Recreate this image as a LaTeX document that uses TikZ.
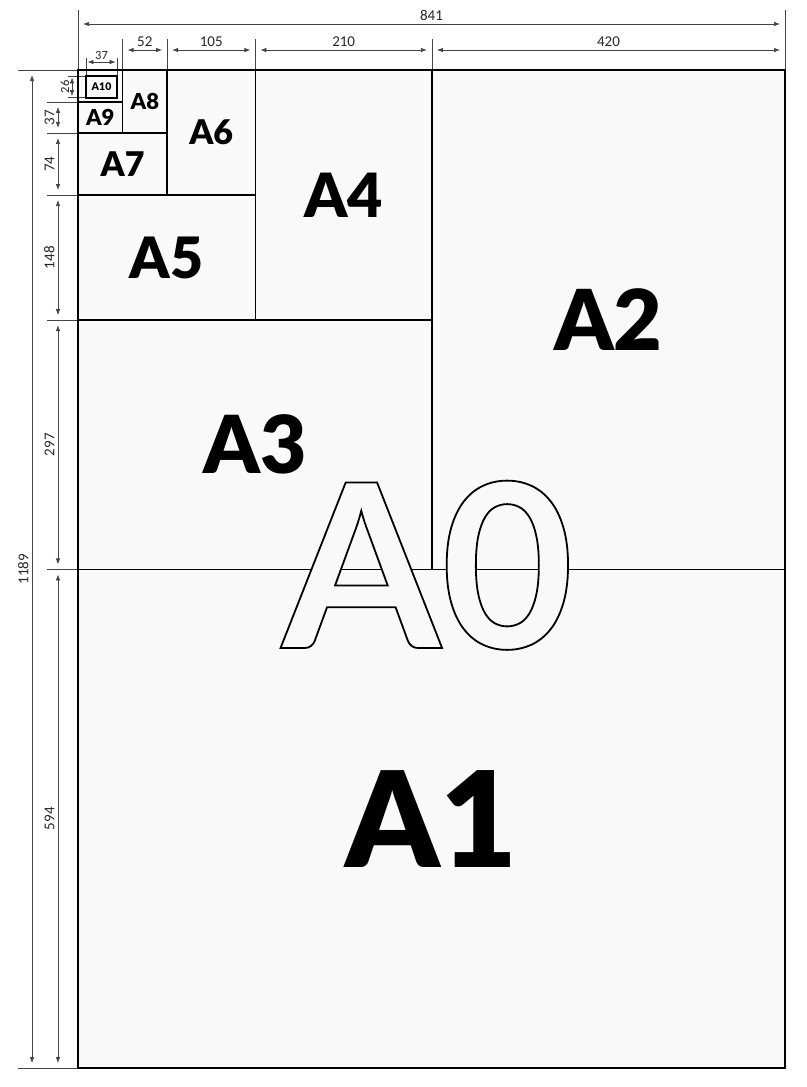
\documentclass[tikz,border=0pt]{standalone}
\usepackage{fontspec}
\usepackage{xcolor}
\usetikzlibrary{arrows.meta}
\setmainfont{Lato}
\newfontfamily\blackfont{Lato Black}
\newfontfamily\dimfont{Carlito}
\definecolor{paper}{HTML}{F9F9F9}
\definecolor{dimgray}{HTML}{444444}
\newcommand\fsz[1]{\fontsize{#1}{#1}\selectfont}
% glyphs filled with the paper colour and stroked in black
\newcommand\outlined[1]{\special{pdf:literal direct 2 Tr 1.8 w 0 G}#1\special{pdf:literal direct 0 Tr}}
\tikzset{
  sheet/.style = {draw=black, line width=1.6pt},
  extline/.style = {draw=dimgray, line width=0.7pt},
  dimline/.style = {draw=dimgray, line width=0.7pt,
    {Latex[length=6pt,width=4.5pt]}-{Latex[length=6pt,width=4.5pt]},
    shorten <=5pt, shorten >=5pt},
  smalldim/.style = {dimline, shorten <=1.5pt, shorten >=1.5pt},
  dimlabel/.style = {font=\dimfont\fsz{15}, text=black!85, inner sep=3.2pt},
  smalllabel/.style = {dimlabel, font=\dimfont\fsz{12.5}, inner sep=2.5pt},
  sizelabel/.style = {font=\blackfont\fsz{#1}, inner sep=0pt}
}

\begin{document}
\begin{tikzpicture}[x=1pt, y=-1pt]
  \useasboundingbox (0,0) rectangle (806,1087);
  \begin{scope}[shift={(78,70)}, x=0.8407pt, y=-0.8394pt]
    % the A0 sheet
    \fill[paper] (0,0) rectangle (841,1189);
    % extension lines
    \foreach \x/\h in {0/71.5, 53/37, 106/37, 211/37, 421/37, 841/71.5}
      \draw[extline] (\x,0) -- (\x,-\h);
    \foreach \y/\w in {0/71.4, 38/36.9, 75/36.9, 149/36.9, 298/36.9, 595/36.9, 1189/71.4}
      \draw[extline] (0,\y) -- (-\w,\y);
    \draw[extline] (9.5,33) -- (9.5,-14.3);
    \draw[extline] (46.5,33) -- (46.5,-14.3);
    \draw[extline] (46.5,7) -- (-11.9,7);
    \draw[extline] (46.5,33) -- (-11.9,33);
    % sheets
    \draw[sheet] (0,595) rectangle (841,1189) node[pos=.5, sizelabel=133] (a1) {A1};
    \draw[sheet] (421,0) rectangle (841,595) node[pos=.5, sizelabel=84] (a2) {A2};
    \draw[sheet] (0,298) rectangle (421,595) node[pos=.5, sizelabel=80] (a3) {A3};
    \draw[sheet] (211,0) rectangle (421,298) node[pos=.5, sizelabel=61] (a4) {A4};
    \draw[sheet] (0,149) rectangle (211,298) node[pos=.5, sizelabel=57] (a5) {A5};
    \draw[sheet] (106,0) rectangle (211,149) node[pos=.5, sizelabel=34] (a6) {A6};
    \draw[sheet] (0,75) rectangle (106,149) node[pos=.5, sizelabel=34] (a7) {A7};
    \draw[sheet] (53,0) rectangle (106,75) node[pos=.5, sizelabel=22] (a8) {A8};
    \draw[sheet] (0,38) rectangle (53,75) node[pos=.5, sizelabel=22] (a9) {A9};
    \draw[sheet] (9.5,7) rectangle (46.5,33) node[pos=.5, sizelabel=10.5] (a10) {A10};
    \draw[sheet] (0,0) rectangle (841,1189);
    % big outlined A0
    \node[font=\bfseries\fsz{229}, text=paper, inner sep=0pt] (a0) at (416,590) {\outlined{A0}};
    % widths
    \coordinate (w0) at (0,-54.8);
    \coordinate (w841) at (841,-54.8);
    \draw[dimline] (w0) -- node[dimlabel, above] (l841) {841} (w841);
    \foreach \a/\b/\w in {53/106/52, 106/211/105, 211/421/210, 421/841/420}
      \draw[dimline] (\a,-23.8) coordinate (wl\w) -- node[dimlabel, above] (l\w) {\w} (\b,-23.8) coordinate (wr\w);
    \coordinate (w37l) at (9.5,-9.5);
    \coordinate (w37r) at (46.5,-9.5);
    \draw[smalldim] (w37l) -- node[smalllabel, above] (l37w) {37} (w37r);
    % heights
    \coordinate (h0) at (-54.7,0);
    \coordinate (h1189) at (-54.7,1189);
    \draw[dimline] (h1189) -- node[dimlabel, above, sloped] (l1189) {1189} (h0);
    \foreach \a/\b/\h in {38/75/37, 75/149/74, 149/298/148, 298/595/297, 595/1189/594}
      \draw[dimline] (-23.8,\b) coordinate (hb\h) -- node[dimlabel, above, sloped] (l\h) {\h} (-23.8,\a) coordinate (ht\h);
    \coordinate (h26b) at (-7.1,33);
    \coordinate (h26t) at (-7.1,7);
    \draw[smalldim] (h26b) -- node[smalllabel, above, sloped] (l26) {26} (h26t);
  \end{scope}
\end{tikzpicture}
\end{document}
